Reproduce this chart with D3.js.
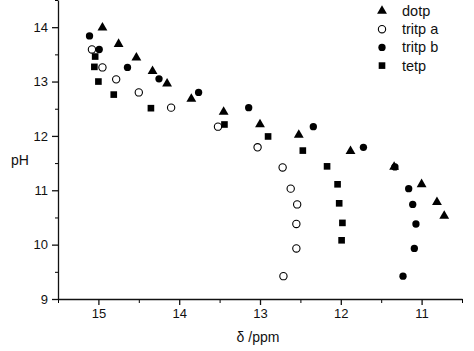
<!DOCTYPE html>
<html>
<head>
<meta charset="utf-8">
<script src="https://cdn.jsdelivr.net/npm/d3@7"></script>
<style>
  body { margin: 0; background: #fff; }
  text { font-family: Arial, "Liberation Sans", sans-serif; fill: #111; }
</style>
</head>
<body>
<div id="chart"></div>
<script>
// data: [shift (ppm), pH]
const dotp = [
  [14.95, 13.99], [14.75, 13.69], [14.53, 13.44], [14.33, 13.19], [14.15, 12.96],
  [13.85, 12.68], [13.45, 12.44], [13.0, 12.21], [12.52, 12.02], [11.88, 11.72],
  [11.34, 11.43], [11.0, 11.11], [10.81, 10.78], [10.72, 10.53]
];
const tritpA = [
  [15.08, 13.59], [14.95, 13.26], [14.78, 13.04], [14.5, 12.8], [14.1, 12.52],
  [13.52, 12.17], [13.03, 11.79], [12.72, 11.42], [12.62, 11.03], [12.54, 10.74],
  [12.55, 10.38], [12.55, 9.93], [12.71, 9.42]
];
const tritpB = [
  [15.11, 13.84], [14.99, 13.59], [14.64, 13.26], [14.25, 13.05], [13.76, 12.8],
  [13.14, 12.52], [12.34, 12.17], [11.72, 11.79], [11.33, 11.43], [11.16, 11.03],
  [11.11, 10.74], [11.07, 10.38], [11.09, 9.93], [11.23, 9.42]
];
const tetp = [
  [15.04, 13.46], [15.05, 13.27], [15.0, 13.0], [14.81, 12.76], [14.35, 12.51],
  [13.44, 12.21], [12.9, 11.99], [12.47, 11.73], [12.17, 11.44], [12.04, 11.11],
  [12.02, 10.76], [11.98, 10.4], [11.99, 10.08]
];
const seriesNames = ['dotp', 'tritp a', 'tritp b', 'tetp'];
const xTicks = [15, 14, 13, 12, 11];
const yTicks = [9, 10, 11, 12, 13, 14];

const width = 474, height = 351;
const margin = {left: 58, right: 12, top: 0, bottom: 52};

const svg = d3.select('#chart').append('svg')
  .attr('width', width)
  .attr('height', height);

const x = d3.scaleLinear()
  .domain([15.5, 10.5])
  .range([margin.left, width - margin.right]);
const y = d3.scaleLinear()
  .domain([9, 14.5])
  .range([height - margin.bottom, margin.top]);

// minor ticks first, then major
const xMinor = d3.range(15.5, 10.4, -0.5).filter(v => !xTicks.includes(v));
const yMinor = d3.range(9.5, 14.6, 1);

svg.append('g')
  .attr('transform', `translate(0,${y(9)})`)
  .call(d3.axisBottom(x).tickValues(xMinor).tickSize(4).tickFormat(''))
  .call(g => g.select('.domain').remove());
svg.append('g')
  .attr('transform', `translate(${x(15.5)},0)`)
  .call(d3.axisLeft(y).tickValues(yMinor).tickSize(3).tickFormat(''))
  .call(g => g.select('.domain').remove());

const xAxis = svg.append('g')
  .attr('transform', `translate(0,${y(9)})`)
  .call(d3.axisBottom(x).tickValues(xTicks).tickFormat(d3.format('d'))
    .tickSize(6).tickPadding(4).tickSizeOuter(0));
const yAxis = svg.append('g')
  .attr('transform', `translate(${x(15.5)},0)`)
  .call(d3.axisLeft(y).tickValues(yTicks).tickFormat(d3.format('d'))
    .tickSize(6).tickPadding(4).tickSizeOuter(0));

[xAxis, yAxis].forEach(a => {
  a.selectAll('path, line').attr('stroke', '#111').attr('stroke-width', 1.3);
  a.selectAll('text').style('font-size', '13px').attr('fill', '#111');
});

svg.append('text')
  .attr('x', 258)
  .attr('y', 342)
  .attr('text-anchor', 'middle')
  .style('font-size', '14px')
  .text('δ /ppm');
svg.append('text')
  .attr('x', 20)
  .attr('y', 165)
  .attr('text-anchor', 'middle')
  .style('font-size', '14px')
  .text('pH');

// marker drawing
const symTri = d3.symbol().type(d3.symbolTriangle).size(42);
const symSq = d3.symbol().type(d3.symbolSquare).size(44);
const symCirc = d3.symbol().type(d3.symbolCircle).size(42);

function drawMarker(sel, kind) {
  if (kind == 'dotp') {
    sel.attr('d', symTri).attr('fill', '#000');
  } else if (kind == 'tritp a') {
    sel.attr('d', symCirc).attr('fill', '#fff').attr('stroke', '#000').attr('stroke-width', 1.1);
  } else if (kind == 'tritp b') {
    sel.attr('d', symCirc).attr('fill', '#000');
  } else {
    sel.attr('d', symSq).attr('fill', '#000');
  }
}

const allSeries = [
  {name: 'tritp a', data: tritpA},
  {name: 'tetp', data: tetp},
  {name: 'tritp b', data: tritpB},
  {name: 'dotp', data: dotp}
];

allSeries.forEach(s => {
  svg.append('g')
    .selectAll('path')
    .data(s.data)
    .join('path')
    .attr('transform', d => `translate(${x(d[0])},${y(d[1])})`)
    .call(sel => drawMarker(sel, s.name));
});

// legend
const legend = svg.append('g');
seriesNames.forEach((n, i) => {
  const ly = 11 + i * 18.2;
  legend.append('path')
    .attr('transform', `translate(382,${ly})`)
    .call(sel => drawMarker(sel, n));
  legend.append('text')
    .attr('x', 402)
    .attr('y', ly + 5)
    .style('font-size', '14.5px')
    .text(n);
});
</script>
</body>
</html>
